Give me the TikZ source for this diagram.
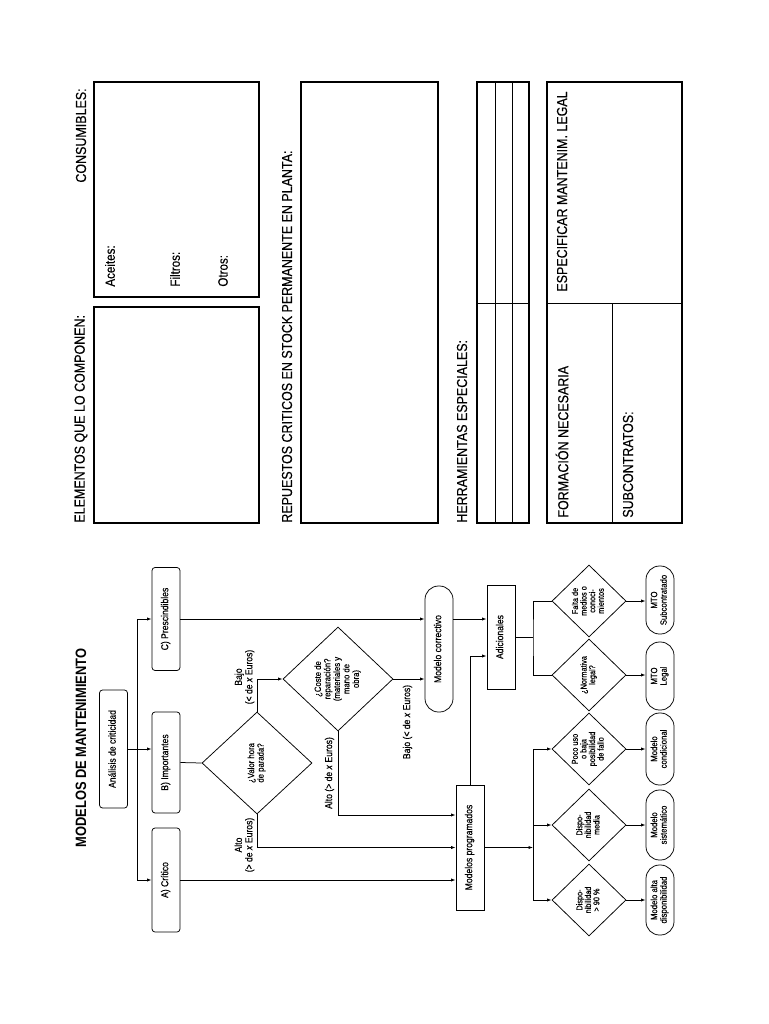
\documentclass[tikz,border=0pt]{standalone}
\usepackage{fontspec}
\setmainfont{Liberation Sans}[FakeStretch=0.86,UprightFeatures={FakeBold=0.35},ItalicFeatures={FakeBold=0.35}]
\usepackage{graphicx}
\usetikzlibrary{shapes.geometric,arrows.meta,calc}
\newcommand{\rtx}[1]{\rotatebox{90}{\begin{tabular}{@{}c@{}}#1\end{tabular}}}
\newcommand{\rtl}[1]{\rotatebox{90}{#1}}
\begin{document}
\begin{tikzpicture}[x=1pt,y=-1pt,line width=0.75pt,
  every node/.style={inner sep=0pt},
  hdr/.style={font=\fontsize{14.5}{16}\selectfont,anchor=south},
  sub/.style={font=\fontsize{13.5}{15}\selectfont,anchor=south},
  frame/.style={draw,line width=1.1pt},
  rbox/.style={draw,rounded corners=3pt,minimum width=28pt,font=\fontsize{10}{11}\selectfont},
  stad/.style={draw,rounded corners=13.5pt,minimum width=28pt,font=\fontsize{9}{9.5}\selectfont},
  sqbox/.style={draw,minimum width=28pt,font=\fontsize{10}{11}\selectfont},
  dia/.style={draw,diamond,font=\fontsize{9}{9.5}\selectfont},
  sdia/.style={draw,diamond,minimum width=74pt,minimum height=72pt,font=\fontsize{8.5}{8.2}\selectfont},
  lbl/.style={font=\fontsize{10}{10.5}\selectfont},
  arr/.style={-{Latex[length=4.5pt,width=3.2pt]}}]
\useasboundingbox (0,0) rectangle (768,1024);

% ---------- form part ----------
\node[hdr] (t1) at (81,523) {\rtl{ELEMENTOS QUE LO COMPONEN:}};
\node[hdr] (t2) at (81,183) {\rtl{CONSUMIBLES:}};
\node[frame,minimum width=165pt,minimum height=216pt] (bx1) at (176.5,415) {};
\node[frame,minimum width=165pt,minimum height=215pt] (bx2) at (176.5,189.5) {};
\node[sub] (ac) at (110,287) {\rtl{Aceites:}};
\node[sub] (fi) at (175,287) {\rtl{Filtros:}};
\node[sub] (ot) at (223,287) {\rtl{Otros:}};
\node[hdr] (t3) at (287,523) {\rtl{REPUESTOS CRITICOS EN STOCK PERMANENTE EN PLANTA:}};
\node[frame,minimum width=137pt,minimum height=441pt] (bx3) at (369.5,302.5) {};
\node[hdr] (t4) at (462,523) {\rtl{HERRAMIENTAS ESPECIALES:}};
\node[frame,minimum width=52pt,minimum height=441pt] (tab) at (503,302.5) {};
\draw (tab.north west -| 495,0) -- (tab.south west -| 495,0);
\draw (tab.north west -| 512,0) -- (tab.south west -| 512,0);
\draw (tab.west |- 0,303) -- (tab.east |- 0,303);
\node[frame,minimum width=135pt,minimum height=441pt] (bx5) at (614.5,302.5) {};
\draw (bx5.west |- 0,303) -- (bx5.east |- 0,303);
\draw (bx5.south -| 612,0) -- (612,303);
\node[hdr] (t5) at (562,292) {\rtl{ESPECIFICAR MANTENIM. LEGAL}};
\node[hdr] (t6) at (562,518) {\rtl{FORMACIÓN NECESARIA}};
\node[hdr] (t7) at (628,518) {\rtl{SUBCONTRATOS:}};

% ---------- flowchart ----------
\node[font=\bfseries\fontsize{15}{16}\selectfont] (title) at (81,748) {\rtl{MODELOS DE MANTENIMIENTO}};
\node[rbox,minimum height=118pt] (anal) at (113.5,749) {\rtx{Análisis de criticidad}};
\node[rbox,minimum height=103pt] (C) at (166,619) {\rtx{C) Prescindibles}};
\node[rbox,minimum height=101pt] (B) at (166,762.5) {\rtx{B) Importantes}};
\node[rbox,minimum height=104pt] (A) at (166,880) {\rtx{A) Crítico}};
\node[dia,minimum width=110pt,minimum height=102pt] (d1) at (257,763) {\rtx{¿Valor hora\\de parada?}};
\node[dia,minimum width=110pt,minimum height=104pt] (d2) at (338,679) {\rtx{¿Coste de\\reparación?\\(materiales y\\mano de\\obra)}};
\node[stad,minimum height=126pt,font=\fontsize{10}{11}\selectfont] (mc) at (439,649) {\rtx{Modelo correctivo}};
\node[sqbox,minimum height=104pt] (adic) at (501,637) {\rtx{Adicionales}};
\node[sqbox,minimum height=125pt] (mp) at (470,847.5) {\rtx{Modelos programados}};

\node[sdia] (dfal) at (589,601) {\rtx{Falta de\\medios o\\conoci-\\mientos}};
\node[sdia] (dnor) at (589,675) {\rtx{¿Normativa\\legal?}};
\node[sdia] (dpoc) at (589,749) {\rtx{Poco uso\\o baja\\posibilidad\\de fallo}};
\node[sdia] (ddis) at (589,825) {\rtx{Dispo-\\nibilidad\\media}};
\node[sdia] (dalt) at (589,900) {\rtx{Dispo-\\nibilidad\\> 90 \%}};

\node[stad,minimum height=68pt] (msub) at (660,600) {\rtx{MTO\\Subcontratado}};
\node[stad,minimum height=68pt] (mleg) at (660,676) {\rtx{MTO\\Legal}};
\node[stad,minimum height=72pt] (mcon) at (660,749) {\rtx{Modelo\\condicional}};
\node[stad,minimum height=70pt] (msis) at (660,825) {\rtx{Modelo\\sistemático}};
\node[stad,minimum height=70pt] (malt) at (660,900) {\rtx{Modelo alta\\disponibilidad}};

\node[lbl] (l1) at (245,677) {\rtx{Bajo\\(< de \textit{x} Euros)}};
\node[lbl] (l2) at (245,845) {\rtx{Alto\\(> de \textit{x} Euros)}};
\node[lbl] (l3) at (330,773) {\rtx{Alto (> de \textit{x} Euros)}};
\node[lbl] (l4) at (408,722) {\rtx{Bajo (< de \textit{x} Euros)}};

% connectors
\coordinate (j1) at (137,749);
\coordinate (jC) at (137,619);
\coordinate (jA) at (137,880);
\draw (anal.east) -- (j1);
\draw (jC) -- (jA);
\draw[arr] (jC) -- (C.west);
\draw[arr] (j1) -- (j1 -| B.west);
\draw[arr] (jA) -- (A.west);
\draw (B.east) -- (d1.west);
\draw[arr] (d1.north) |- (d2.west);
\draw[arr] (d1.south) |- (mp.west);
\draw[arr] (d2.south) |- ($(mp.west)+(0,-32.5)$);
\draw[arr] (A.east) -- (A.east -| mp.west);
\draw[arr] (C.east) -- (C.east -| mc.west);
\draw[arr] (d2.east) -- (d2.east -| mc.west);
\draw[arr] (mc.east |- C.east) -- (adic.west |- C.east);
\draw[arr] (mp.north) |- ($(adic.west)+(0,19)$);
\coordinate (ja) at (533,637);
\draw (adic.east) -- (ja);
\draw (dfal.west) -| (ja) |- (dnor.west);
\draw[arr] (dfal.east) -- (dfal.east -| msub.west);
\draw[arr] (dnor.east) -- (dnor.east -| mleg.west);
\coordinate (jb) at (533,847.5);
\draw[arr] (mp.east) -- (jb);
\draw (jb |- dpoc.west) -- (jb |- dalt.west);
\draw[arr] (jb |- dpoc.west) -- (dpoc.west);
\draw[arr] (jb |- ddis.west) -- (ddis.west);
\draw[arr] (jb |- dalt.west) -- (dalt.west);
\draw[arr] (dpoc.east) -- (mcon.west);
\draw[arr] (ddis.east) -- (msis.west);
\draw[arr] (dalt.east) -- (malt.west);
\end{tikzpicture}
\end{document}
